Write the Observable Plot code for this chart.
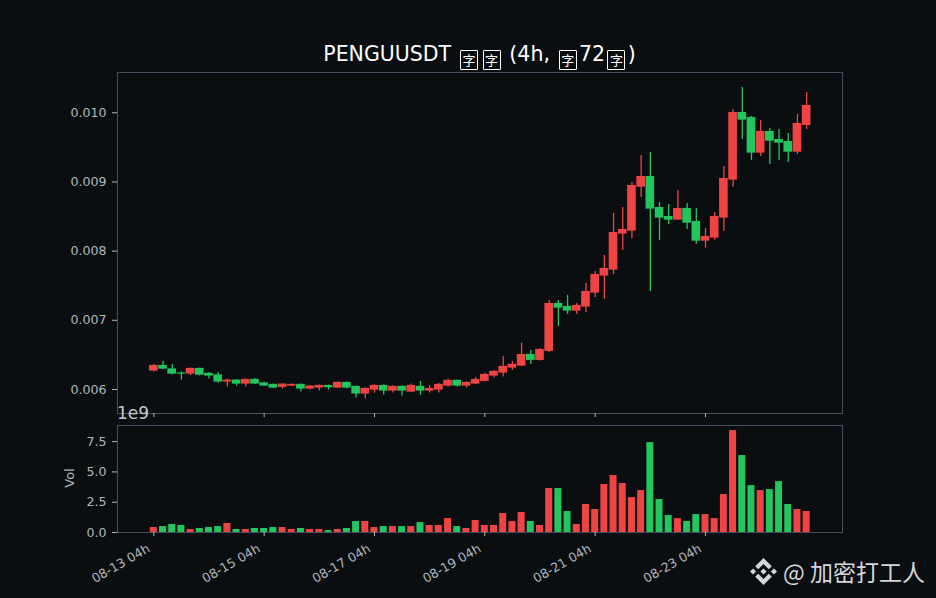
<!DOCTYPE html>
<html><head><meta charset="utf-8">
<script src="https://cdn.jsdelivr.net/npm/d3@7"></script>
<script src="https://cdn.jsdelivr.net/npm/@observablehq/plot@0.6"></script>
<style>
html,body{margin:0;padding:0;background:#0b0e11;}
#wrap{position:relative;width:936px;height:598px;overflow:hidden;background:#0b0e11;font-family:"DejaVu Sans",sans-serif;}
.abs{position:absolute;}
#title{left:117px;width:725px;top:42px;text-align:center;color:#ffffff;font-size:20.5px;line-height:24px;white-space:nowrap;}
.tofu{display:inline-block;box-sizing:border-box;width:18px;height:20px;border:1.3px solid #ffffff;border-radius:1px;font-family:"Noto Sans CJK SC",sans-serif;font-size:13px;line-height:17px;text-align:center;vertical-align:-3.5px;margin:0 2.3px;}
#vol-label{left:52px;top:470px;width:36px;text-align:center;color:#aeb4bc;font-size:13px;line-height:16px;transform:rotate(-90deg);}
#offset{left:117px;top:403px;color:#c4c8ce;font-size:17px;line-height:20px;}
#wm{left:750px;top:556px;display:flex;align-items:center;color:#d4d6d9;font-family:"Noto Sans CJK SC",sans-serif;font-size:23px;line-height:30px;white-space:nowrap;}
#wm svg{margin-right:6px;}
#main,#vol{position:absolute;left:0;}
#main{top:0;}
#vol{top:420px;}
</style>
</head><body>
<div id="wrap">
  <div id="main"></div>
  <div id="vol"></div>
  <div id="title" class="abs">PENGUUSDT <span class="tofu">字</span><span class="tofu">字</span> (4h, <span class="tofu">字</span>72<span class="tofu">字</span>)</div>
  <div id="offset" class="abs">1e9</div>
  <div id="vol-label" class="abs">Vol</div>
  <div id="wm" class="abs"><svg width="27" height="27" viewBox="0 0 126.61 126.61"><g fill="#d4d6d9"><path d="M38.73 53.2 63.32 28.62 87.93 53.22 102.23 38.91 63.32 0 24.42 38.9Z"/><path d="M0 63.31 14.3 49.01 28.61 63.31 14.3 77.61Z"/><path d="M38.73 73.41 63.32 97.99 87.93 73.39 102.24 87.68 63.32 126.61 24.42 87.71Z"/><path d="M98 63.31 112.3 49.01 126.61 63.31 112.3 77.61Z"/><path d="M77.83 63.3 63.32 48.78 48.79 63.3 63.32 77.83Z"/></g></svg><span>@ 加密打工人</span></div>
</div>
<script>
// 72 candles, 4h each, starting 08-13 04h (price in USDT)
const opens  = [0.006266,0.006348,0.006298,0.006240,0.006222,0.006305,0.006233,0.006211,0.006107,0.006136,
                0.006078,0.006146,0.006095,0.006074,0.006030,0.006049,0.006074,0.006006,0.006020,0.006059,
                0.006020,0.006103,0.006045,0.005934,0.005991,0.006059,0.005977,0.006045,0.005962,0.006045,
                0.005977,0.005991,0.006049,0.006132,0.006049,0.006078,0.006117,0.006194,0.006237,0.006309,
                0.006338,0.006507,0.006420,0.006551,0.007244,0.007201,0.007133,0.007191,0.007393,0.007639,
                0.007725,0.008246,0.008289,0.008925,0.009079,0.008631,0.008501,0.008448,0.008617,0.008429,
                0.008144,0.008188,0.008477,0.009026,0.010004,0.009932,0.009416,0.009730,0.009614,0.009585,
                0.009430,0.009816];
const highs  = [0.006363,0.006406,0.006363,0.006254,0.006312,0.006312,0.006247,0.006247,0.006150,0.006143,
                0.006153,0.006160,0.006103,0.006081,0.006085,0.006081,0.006081,0.006056,0.006066,0.006066,
                0.006110,0.006110,0.006052,0.006023,0.006066,0.006066,0.006052,0.006052,0.006078,0.006117,
                0.006059,0.006092,0.006150,0.006139,0.006110,0.006175,0.006233,0.006276,0.006478,0.006406,
                0.006670,0.006565,0.006594,0.007287,0.007287,0.007360,0.007244,0.007533,0.007707,0.007938,
                0.008545,0.008631,0.008993,0.009383,0.009426,0.008704,0.008675,0.008877,0.008689,0.008617,
                0.008328,0.008559,0.009224,0.010047,0.010365,0.009946,0.009888,0.009773,0.009758,0.009701,
                0.009975,0.010293];
const lows   = [0.006254,0.006286,0.006211,0.006136,0.006204,0.006194,0.006150,0.006092,0.006035,0.006049,
                0.006035,0.006071,0.006042,0.006013,0.006006,0.006042,0.005962,0.005991,0.005977,0.005991,
                0.006013,0.006006,0.005876,0.005861,0.005948,0.005919,0.005948,0.005905,0.005955,0.005919,
                0.005948,0.005948,0.006035,0.006035,0.006020,0.006071,0.006110,0.006165,0.006179,0.006276,
                0.006334,0.006363,0.006413,0.006536,0.006912,0.007085,0.007085,0.007114,0.007331,0.007302,
                0.007663,0.008010,0.008183,0.008776,0.007418,0.008155,0.008386,0.008441,0.008313,0.008101,
                0.008043,0.008159,0.008285,0.008925,0.009614,0.009310,0.009368,0.009253,0.009310,0.009282,
                0.009397,0.009758];
const closes = [0.006348,0.006295,0.006222,0.006222,0.006305,0.006208,0.006194,0.006107,0.006136,0.006078,
                0.006146,0.006078,0.006049,0.006020,0.006078,0.006074,0.006006,0.006049,0.006059,0.006026,
                0.006103,0.006020,0.005934,0.006016,0.006059,0.005977,0.006045,0.005977,0.006059,0.005977,
                0.006016,0.006074,0.006132,0.006049,0.006103,0.006146,0.006218,0.006262,0.006334,0.006363,
                0.006507,0.006420,0.006579,0.007244,0.007176,0.007133,0.007215,0.007418,0.007663,0.007750,
                0.008270,0.008313,0.008949,0.009079,0.008607,0.008477,0.008448,0.008617,0.008404,0.008144,
                0.008212,0.008501,0.009050,0.010004,0.009893,0.009416,0.009730,0.009589,0.009560,0.009430,
                0.009845,0.010105];
// volume, in units of 1e9
const volumes = [0.41,0.49,0.66,0.58,0.25,0.33,0.41,0.49,0.74,0.25,
                 0.25,0.33,0.33,0.41,0.41,0.25,0.33,0.25,0.25,0.16,
                 0.25,0.33,0.91,0.91,0.41,0.49,0.49,0.49,0.49,0.82,
                 0.58,0.58,1.15,0.49,0.33,0.99,0.58,0.58,1.57,0.91,
                 1.65,0.91,0.58,3.63,3.63,1.73,0.66,2.31,1.90,3.96,
                 4.70,4.04,2.88,3.46,7.42,2.72,1.40,1.15,0.91,1.48,
                 1.48,1.15,3.13,8.41,6.35,3.87,3.46,3.54,4.20,2.31,
                 1.90,1.73];
const tickPositions = [0,12,24,36,48,60];
const tickLabels = ["08-13 04h","08-15 04h","08-17 04h","08-19 04h","08-21 04h","08-23 04h"];
const priceTicks = [0.006,0.007,0.008,0.009,0.010];
const volTicks = [0,2.5,5,7.5];

const UP = "#ef4444", DOWN = "#22c55e";
const FRAME = "#465062", TXT = "#b2b7bf";
const FS = 12.6;
const data = opens.map((o,i)=>({i, open:o, high:highs[i], low:lows[i], close:closes[i], vol:volumes[i], color: closes[i] >= o ? UP : DOWN}));
const xDomain = [-3.95, 74.9];
const baseStyle = {background:"transparent", color:TXT, fontFamily:"DejaVu Sans", fontSize:FS+"px", overflow:"visible"};

const main = Plot.plot({
  width:936, height:420, marginTop:72, marginBottom:7, marginLeft:117, marginRight:94,
  style: baseStyle,
  x:{domain:xDomain},
  y:{domain:[0.005653,0.010582]},
  marks:[
    Plot.ruleX(data,{x:"i", y1:"low", y2:"high", stroke:"color", strokeWidth:1.3}),
    Plot.rect(data,{x1:d=>d.i-0.47, x2:d=>d.i+0.47, y1:"open", y2:"close", fill:"color"}),
    Plot.frame({stroke:FRAME}),
    Plot.axisY({ticks:priceTicks, tickFormat:d3.format(".3f"), tickSize:5, tickPadding:6, fontSize:FS, label:null}),
    Plot.axisX({ticks:tickPositions, tickFormat:()=>"", tickSize:4, label:null})
  ]
});
document.getElementById("main").appendChild(main);

const vol = Plot.plot({
  width:936, height:178, marginTop:5, marginBottom:66, marginLeft:117, marginRight:94,
  style: baseStyle,
  x:{domain:xDomain},
  y:{domain:[0,8.83]},
  marks:[
    Plot.rect(data,{x1:d=>d.i-0.38, x2:d=>d.i+0.38, y1:0, y2:"vol", fill:"color"}),
    Plot.frame({stroke:FRAME}),
    Plot.axisY({ticks:volTicks, tickFormat:d3.format(".1f"), tickSize:5, tickPadding:6, fontSize:FS, label:null}),
    Plot.axisX({ticks:tickPositions, tickFormat:()=>"", tickSize:4, label:null}),
    Plot.axisX({ticks:tickPositions, tickFormat:v=>tickLabels[tickPositions.indexOf(v)], tickRotate:-30, tickSize:0, tickPadding:15, dx:-5, fontSize:FS, label:null})
  ]
});
document.getElementById("vol").appendChild(vol);
</script>
</body></html>
